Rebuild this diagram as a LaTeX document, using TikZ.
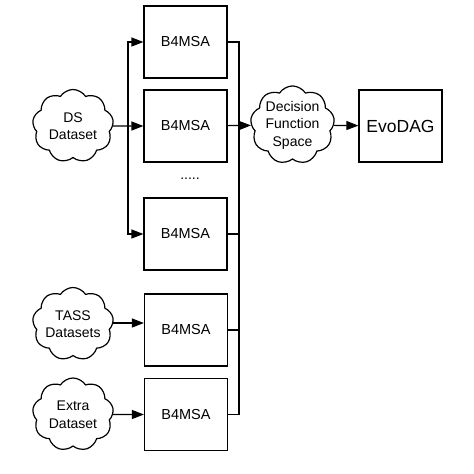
\documentclass[tikz,border=0pt]{standalone}
\usepackage{fontspec}
\setmainfont{Liberation Sans}
\usetikzlibrary{shapes.symbols,arrows.meta}
\begin{document}
\begin{tikzpicture}[x=1pt,y=-1pt,
  stepbox/.style={draw,line width=1.2pt,minimum width=83pt,minimum height=72pt,inner sep=0pt,font=\fontsize{14.5}{17}\selectfont},
  cloudbox/.style={draw,cloud,cloud puffs=9,cloud puff arc=115,cloud ignores aspect,line width=1.2pt,minimum width=81pt,minimum height=73pt,inner sep=0pt,align=center,font=\fontsize{14}{17.5}\selectfont},
  arr/.style={line width=1.2pt,-{Triangle[length=12pt,width=9pt]}},
  ln/.style={line width=1.2pt}]
\useasboundingbox (0,0) rectangle (474,474);
\node[stepbox] (b1) at (185.5,42) {B4MSA};
\node[stepbox] (b2) at (185.5,126) {B4MSA};
\node[stepbox] (b3) at (185.5,234) {B4MSA};
\node[stepbox] (b4) at (186,330) {B4MSA};
\node[stepbox] (b5) at (186,414.5) {B4MSA};
\node[font=\fontsize{14}{16}\selectfont] (dots) at (190,179) {.....};
\node[cloudbox] (ds) at (73,126) {DS\\Dataset};
\node[cloudbox] (tass) at (73,324) {TASS\\Datasets};
\node[cloudbox] (extra) at (73,414.5) {Extra\\Dataset};
\node[cloudbox,minimum height=72pt] (dfs) at (292.5,125) {Decision\\Function\\Space};
\node[stepbox,font=\fontsize{17.5}{20}\selectfont] (evo) at (400.5,126) {EvoDAG};
\coordinate (lj) at (128,126);
\coordinate (rj) at (239,126);
\draw[arr] (ds) -- (b2);
\draw[arr] (lj) |- (b1);
\draw[arr] (lj) |- (b3);
\draw[arr] (tass.east|-b4.west) ++(0,-7) coordinate (t1) -- (b4.west|-t1);
\draw[arr] (extra) -- (b5);
\draw[ln] (b1.east) -| (rj);
\draw[ln] (b3.east) -| (rj);
\draw[ln] (b4.east) -| (rj);
\draw[ln] (b5.east) -| (rj);
\draw[arr] (b2) -- (dfs);
\draw[arr] (dfs) -- (evo);
\end{tikzpicture}
\end{document}
